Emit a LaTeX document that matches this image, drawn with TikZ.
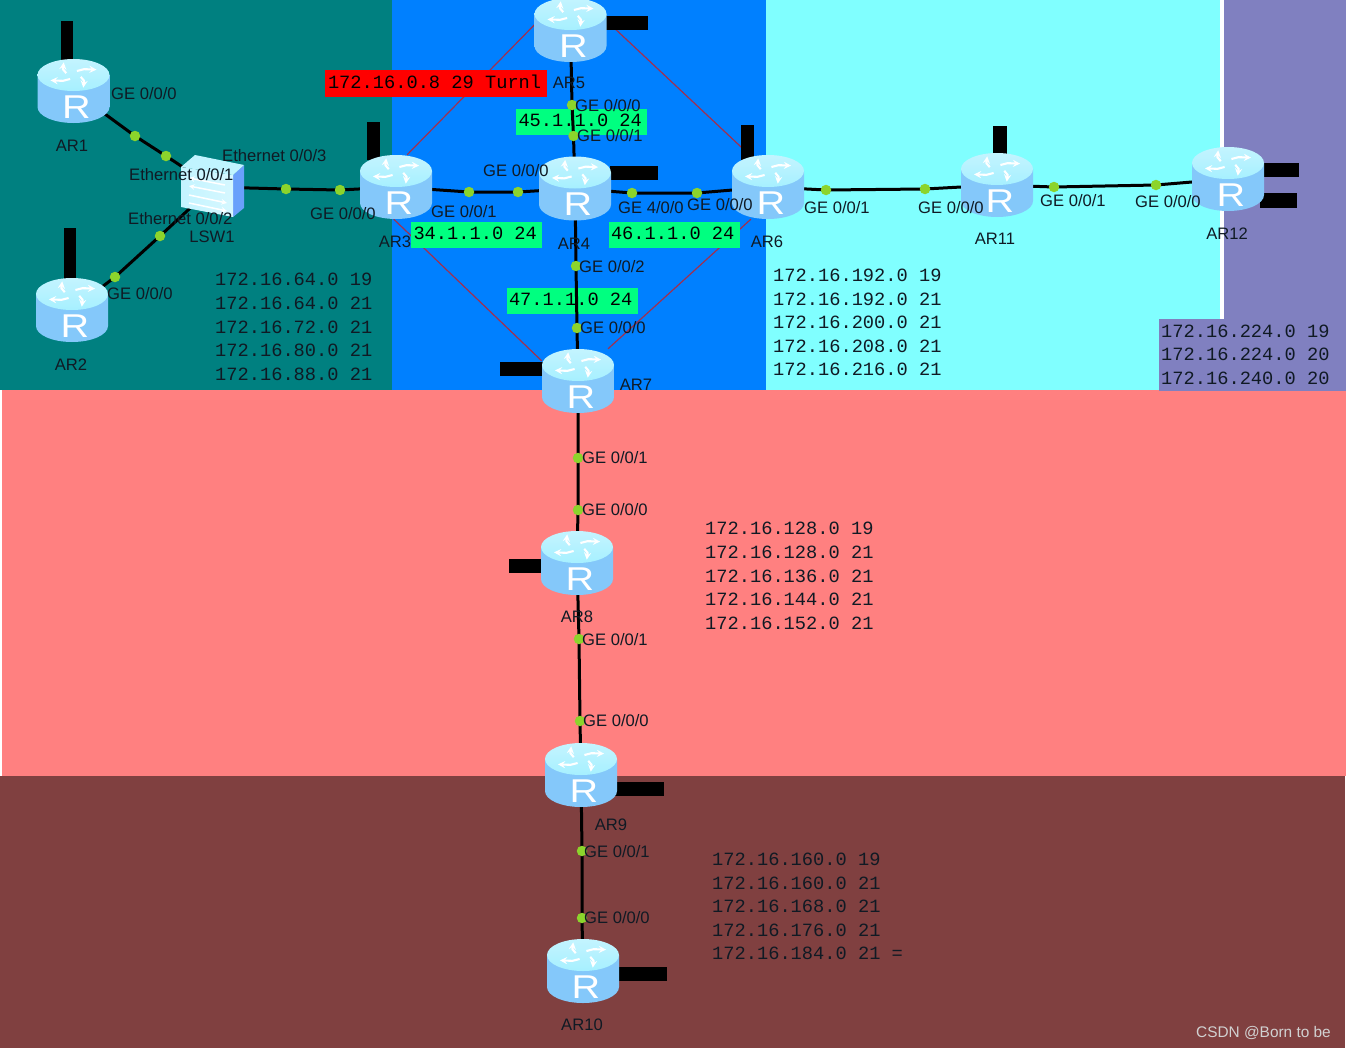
\documentclass[tikz,border=0pt]{standalone}
\usepackage{fontspec}
\setmainfont{Liberation Sans}
\newfontfamily\addrfont{Liberation Mono}
\usetikzlibrary{arrows,backgrounds}

\definecolor{zoneteal}{HTML}{008080}
\definecolor{zoneblue}{HTML}{0080FF}
\definecolor{zonecyan}{HTML}{80FFFF}
\definecolor{zonepurple}{HTML}{8080C0}
\definecolor{zonesalmon}{HTML}{FF8080}
\definecolor{zonebrown}{HTML}{804040}
\definecolor{barmint}{HTML}{00FF80}
\definecolor{portgreen}{HTML}{8CD42C}
\definecolor{tunnelline}{HTML}{A03050}
\definecolor{labelink}{HTML}{101A24}
\definecolor{routerpale}{HTML}{C4F4FF}
\definecolor{routerside}{HTML}{84C8FA}
\definecolor{routertop}{HTML}{A6F0FF}

\tikzset{
    routerpic/.pic={
        \shade[left color=routerside, middle color=routerpale, right color=routerside]
            (-36,-16) -- (-36,16) .. controls (-36,24.8) and (-20,32) .. (0,32)
            .. controls (20,32) and (36,24.8) .. (36,16) -- (36,-16) -- cycle;
        \shade[top color=routerpale, bottom color=routertop] (0,-16) ellipse (36 and 16);
        \begin{scope}[shift={(0,-16)}, yscale=0.55]
            \foreach \a in {25,115,205,295} {
                \draw[white, line width=2.1, -stealth] (\a:8) -- (\a+20:15) -- (\a+42:25);
            }
        \end{scope}
        \node[text=white, inner sep=0, font=\fontsize{33}{33}\selectfont] (-mark) at (3,16) {\scalebox{1.2}[1]{R}};
    },
    switchpic/.pic={
        \fill[routerside!80!blue] (20,-12) -- (31,-22) -- (31,21) -- (20,30) -- cycle;
        \shade[left color=routerpale, right color=routerpale!70!white] (-32,-20) -- (20,-12) -- (20,30) -- (-32,20) -- cycle;
        \fill[routerpale!85!routertop] (-32,-20) -- (-18,-32) -- (31,-22) -- (20,-12) -- cycle;
        \draw[white, line width=1.5, -stealth] (12,-2) -- (-24,-9);
        \draw[white, line width=1.5, -stealth] (12,6) -- (-24,-1);
        \draw[white, line width=1.5, -stealth] (-24,8) -- (14,16);
        \draw[white, line width=1.5, -stealth] (-24,16) -- (14,24);
    }
}

\begin{document}
\begin{tikzpicture}[
    x=1pt, y=-1pt,
    rbox/.style={minimum width=72pt, minimum height=64pt, inner sep=0},
    portdot/.style={circle, fill=portgreen, minimum size=10.5pt, inner sep=0},
    wire/.style={black, line width=3pt},
    tunnel/.style={tunnelline, line width=1.2pt},
    stub/.style={fill=black},
    namelabel/.style={text=labelink, inner sep=0, font=\fontsize{16.6}{18}\selectfont},
    portlabel/.style={namelabel, anchor=west},
    addrblock/.style={text=labelink, inner sep=0, anchor=west, align=left,
        font=\addrfont\fontsize{18.7}{23.6}\selectfont},
    netbar/.style={fill=barmint, text=black, inner sep=0, minimum height=26pt, minimum width=131pt,
        text width=126pt, align=flush left, text height=12.3pt, text depth=3pt,
        font=\addrfont\fontsize{18.7}{23.6}\selectfont}
]
    \useasboundingbox (0,0) rectangle (1346,1049);

    % Devices
    \foreach \r/\x/\y in {ar1/73.5/91, ar2/72/310, ar3/396/187, ar4/575/188.5, ar5/570.5/30, ar6/768/187,
        ar7/578/381, ar8/577/563, ar9/581/775, ar10/583/971, ar11/997/185, ar12/1228/179} {
        \node[rbox] (\r) at (\x,\y) {};
    }
    \node[minimum width=66pt, minimum height=65pt, inner sep=0] (lsw1) at (213,187) {};

    % Ports
    \foreach \p/\x/\y in {a1/135/136, a2/166/156, b1/115/277, b2/160/236, c1/286/189, c2/340/190,
        d1/469/192, d2/518/192, e1/632/193, e2/697/193, f1/826/190, f2/925/189, g1/1054/187, g2/1156/185,
        h1/572/105, h2/573.5/136, i1/576/266, i2/577/328, j1/578/458, j2/578/510,
        k1/579/639, k2/580/721, l1/582/851, l2/582/918} {
        \node[portdot] (\p) at (\x,\y) {};
    }

    \begin{scope}[on background layer]
        % Zones
        \fill[white] (0,0) rectangle (1346,1049);
        \fill[zoneteal] (0,0) rectangle (392,389.5);
        \fill[zoneblue] (392,0) rectangle (766,389.5);
        \fill[zonecyan] (766,0) rectangle (1220,389.5);
        \fill[zonepurple] (1224,0) rectangle (1346,391);
        \fill[zonesalmon] (2,390) rectangle (1346,776);
        \fill[zonebrown] (0,776) rectangle (1345,1048);
        \fill[zonepurple] (1159,319) rectangle (1346,391);

        % Tunnels
        \draw[tunnel] (ar3.71) -- (ar5.172);
        \draw[tunnel] (ar5.14) -- (ar6.120);
        \draw[tunnel] (ar3.266) -- (ar7.151);
        \draw[tunnel] (ar6.242) -- (ar7.47);

        % Subnet bars
        \node[netbar] (bar45) at (581.5,122) {45.1.1.0 24};
        \node[netbar] (bar34) at (476.5,235) {34.1.1.0 24};
        \node[netbar] (bar46) at (674,235) {46.1.1.0 24};
        \node[netbar] (bar47) at (572,301) {47.1.1.0 24};
        \node[netbar, fill=red, minimum width=222pt, minimum height=27pt, text width=216pt] (barturn) at (436,83.5) {172.16.0.8 29 Turnl};

        % Links
        \foreach \from/\pa/\pb/\to in {ar1/a1/a2/lsw1, ar2/b1/b2/lsw1, lsw1/c1/c2/ar3, ar3/d1/d2/ar4,
            ar4/e1/e2/ar6, ar6/f1/f2/ar11, ar11/g1/g2/ar12, ar5/h1/h2/ar4, ar4/i1/i2/ar7,
            ar7/j1/j2/ar8, ar8/k1/k2/ar9, ar9/l1/l2/ar10} {
            \draw[wire] (\from.center) -- (\pa.center) -- (\pb.center) -- (\to.center);
        }

        % Stubs
        \foreach \xa/\ya/\xb/\yb in {61/21/73/60, 64/228/76/279, 367/122/380/160, 610/166/658/180,
            606/16/648/30, 741/125/754/160, 500/362/545/376, 509/559/545/573, 615/782/664/796,
            618/967/667/981, 993/126/1007/155, 1263/163/1299/177, 1260/193/1297/208} {
            \fill[stub] (\xa,\ya) rectangle (\xb,\yb);
        }
    \end{scope}

    % Icons
    \foreach \r in {ar1,ar2,ar3,ar4,ar5,ar6,ar7,ar8,ar9,ar10,ar11,ar12} {
        \pic (\r) at (\r) {routerpic};
    }
    \pic at (lsw1) {switchpic};

    % Device names
    \foreach \x/\y/\t [count=\i] in {72/146/AR1, 71/365/AR2, 395/242/AR3, 574/244/AR4, 569/83/AR5, 767/242/AR6,
        636/385/AR7, 577/617/AR8, 611/825/AR9, 582/1025/AR10, 995/239/AR11, 1227/234/AR12, 212/237/LSW1} {
        \node[namelabel] (name\i) at (\x,\y) {\t};
    }

    % Port labels
    \foreach \x/\y/\t [count=\i] in {111/94/{GE 0/0/0}, 107/294/{GE 0/0/0}, 129/175/{Ethernet 0/0/1},
        128/219/{Ethernet 0/0/2}, 222/156/{Ethernet 0/0/3}, 310/214/{GE 0/0/0}, 431/212/{GE 0/0/1},
        483/171/{GE 0/0/0}, 575/106/{GE 0/0/0}, 577/136/{GE 0/0/1}, 618/208/{GE 4/0/0}, 687/205/{GE 0/0/0},
        579/267/{GE 0/0/2}, 580/328/{GE 0/0/0}, 804/208/{GE 0/0/1}, 918/208/{GE 0/0/0}, 1040/201/{GE 0/0/1},
        1135/202/{GE 0/0/0}, 582/458/{GE 0/0/1}, 582/510/{GE 0/0/0}, 582/640/{GE 0/0/1}, 583/721/{GE 0/0/0},
        584/852/{GE 0/0/1}, 584/918/{GE 0/0/0}} {
        \node[portlabel] (plabel\i) at (\x,\y) {\t};
    }

    % Address blocks
    \node[addrblock, align=flush left] (addrteal) at (215,327) {172.16.64.0 19\\172.16.64.0 21\\172.16.72.0 21\\172.16.80.0 21\\172.16.88.0 21};
    \node[addrblock] (addrcyan) at (773,322.5) {172.16.192.0 19\\172.16.192.0 21\\172.16.200.0 21\\172.16.208.0 21\\172.16.216.0 21};
    \node[addrblock] (addrpurple) at (1161,354.5) {172.16.224.0 19\\172.16.224.0 20\\172.16.240.0 20};
    \node[addrblock] (addrsalmon) at (705,576) {172.16.128.0 19\\172.16.128.0 21\\172.16.136.0 21\\172.16.144.0 21\\172.16.152.0 21};
    \node[addrblock] (addrbrown) at (712,906.5) {172.16.160.0 19\\172.16.160.0 21\\172.16.168.0 21\\172.16.176.0 21\\172.16.184.0 21 =};

    \node[inner sep=0, anchor=east, text=black!18, font=\fontsize{15.4}{18}\selectfont] (mark) at (1331,1033) {CSDN @Born to be};
\end{tikzpicture}
\end{document}
